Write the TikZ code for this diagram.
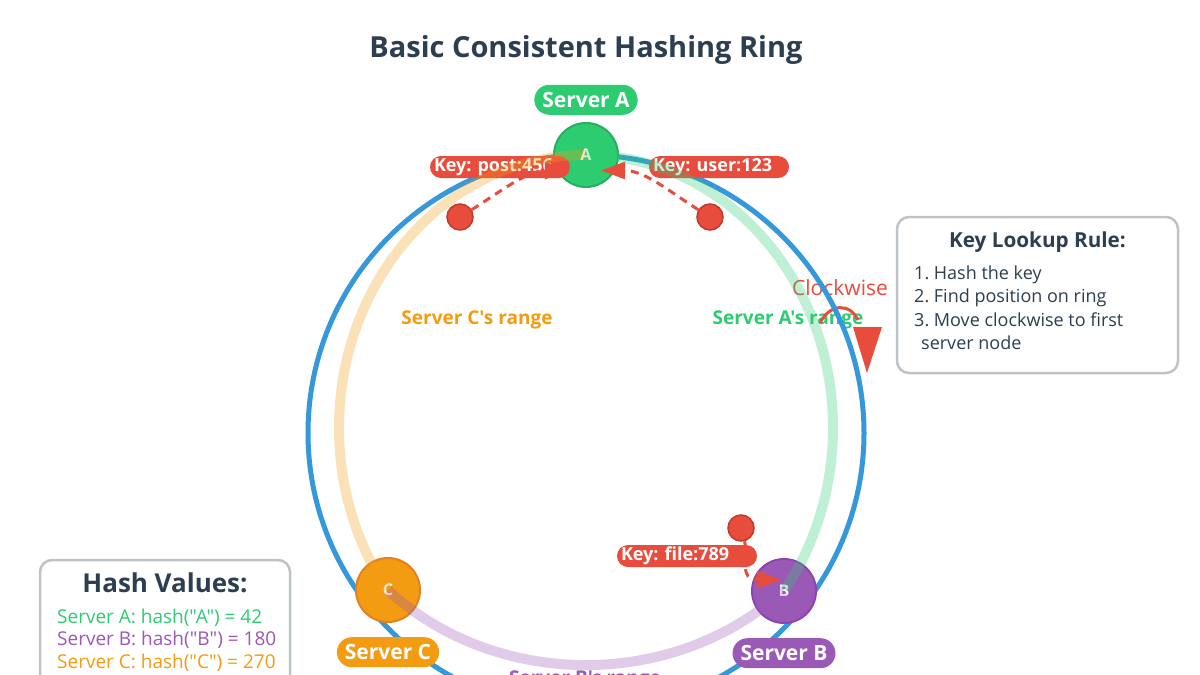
\documentclass[tikz,border=0pt]{standalone}
\usepackage{fontspec}
\setmainfont{Open Sans}[Ligatures=TeXOff]
\usetikzlibrary{positioning,arrows.meta}
\definecolor{ringblue}{HTML}{3498DB}
\definecolor{srvgreen}{HTML}{2ECC71}
\definecolor{srvgreenD}{HTML}{27AE60}
\definecolor{srvpurple}{HTML}{9B59B6}
\definecolor{srvpurpleD}{HTML}{8E44AD}
\definecolor{srvorange}{HTML}{F39C12}
\definecolor{srvorangeD}{HTML}{E67E22}
\definecolor{keyred}{HTML}{E74C3C}
\definecolor{keyredD}{HTML}{C0392B}
\definecolor{inkdark}{HTML}{2C3E50}
\definecolor{boxgray}{HTML}{BDC3C7}
\newcommand{\Size}[1]{\fontsize{#1pt}{#1pt}\selectfont}
\frenchspacing

\begin{document}
\begin{tikzpicture}[x=1pt,y=-1pt,
  server/.style={circle, minimum size=64pt, inner sep=0pt, line width=2pt, text=white, font=\Size{16}\bfseries},
  tag/.style={rounded corners=15pt, minimum height=30pt, inner xsep=8pt, inner ysep=0pt, text=white, font=\Size{21}\bfseries},
  keydot/.style={circle, minimum size=26pt, inner sep=0pt, fill=keyred, draw=keyredD, line width=1.5pt},
  keytag/.style={fill=keyred, rounded corners=11pt, minimum height=22pt, text width=132pt, inner xsep=4pt, inner ysep=0pt, align=left, text=white, font=\Size{18}\bfseries},
  keyarrow/.style={keyred, line width=3pt, dash pattern=on 8pt off 6pt, -{Triangle[length=24pt,width=17pt]}},
  rangearc/.style={line width=10pt, opacity=0.3},
  rangetext/.style={font=\Size{19}\bfseries},
  infobox/.style={draw=boxgray, line width=2.5pt, rounded corners=12pt, fill=white}]

  \useasboundingbox[fill=white] (0,0) rectangle (1200,675);
  \coordinate (ctr) at (586,433);

  \node[font=\Size{29}\bfseries, text=inkdark] (title) at (586,50) {Basic Consistent Hashing Ring};

  \node[rangetext, text=srvorange] (rangeC) at (477,320) {Server C's range};
  \node[rangetext, text=srvgreen] (rangeA) at (788,320) {Server A's range};
  \node[rangetext, text=srvpurple, anchor=base] (rangeB) at (585,684) {Server B's range};

  \node[font=\Size{21}, text=keyred] (cw) at (840,288) {Clockwise};
  \draw[keyred, line width=3pt] (820,323) .. controls (830,303) and (850,303) .. (858,320);
  \fill[keyred] (853,327) -- (882,327) -- (867,373) -- cycle;

  \draw[ringblue, line width=5pt] (ctr) circle[radius=278];

  \node[server, fill=srvgreen, draw=srvgreenD] (srvA) at (586,155) {A};
  \node[server, fill=srvpurple, draw=srvpurpleD] (srvB) at (784,591) {B};
  \node[server, fill=srvorange, draw=srvorangeD] (srvC) at (388,590) {C};
  \node[tag, fill=srvgreen, above=7pt of srvA] (tagA) {Server A};
  \node[tag, fill=srvpurple, below=14pt of srvB] (tagB) {Server B};
  \node[tag, fill=srvorange, below=14pt of srvC] (tagC) {Server C};

  \node[keydot] (kdotP) at (460,217) {};
  \node[keydot] (kdotU) at (710,217) {};
  \node[keydot] (kdotF) at (741,528) {};
  \node[keytag] (ktagP) at (500,167) {Key: post:456};
  \node[keytag] (ktagU) at (719,167) {Key: user:123};
  \node[keytag] (ktagF) at (687,556) {Key: file:789};
  \draw[keyarrow, shorten >=-12pt] (kdotP) .. controls +(40,-25) and +(-30,0) .. (srvA.208);
  \draw[keyarrow, shorten >=-14pt] (kdotU) .. controls +(-40,-25) and +(30,0) .. (srvA.-28);
  \draw[keyarrow, shorten >=-28pt] (kdotF) .. controls +(8,30) and +(-15,0) .. (srvB.160);

  \draw[rangearc, srvgreen] (srvA.center) arc[start angle=-90, end angle=36.3, x radius=247, y radius=273];
  \draw[rangearc, srvorange] (srvA.center) arc[start angle=-90, end angle=-216.3, x radius=247, y radius=273];
  \draw[rangearc, srvpurple] (srvC.center) arc[start angle=136.9, end angle=43.1, x radius=271, y radius=237];

  \node[infobox, minimum width=281pt, minimum height=156pt] (rulebox) at (1037.5,295) {};
  \node[font=\Size{20.7}\bfseries, text=inkdark] (ruletitle) at (1037.5,242) {Key Lookup Rule:};
  \foreach \txt [count=\i] in {1. Hash the key, 2. Find position on ring, 3. Move clockwise to first, \hspace*{7pt}server node}
    \node[font=\Size{18}, text=inkdark, anchor=base west, inner sep=0pt] at (914,256.2+23.3*\i) {\txt};

  \node[infobox, minimum width=250pt, minimum height=150pt] (hashbox) at (165,635) {};
  \node[font=\Size{26}\bfseries, text=inkdark] (hashtitle) at (165,583) {Hash Values:};
  \foreach \txt/\col [count=\i] in {Server A: hash("A") = 42/srvgreen, Server B: hash("B") = 180/srvpurple, Server C: hash("C") = 270/srvorange}
    \node[font=\Size{19}, text=\col, anchor=base west, inner sep=0pt] at (57,600.5+22.5*\i) {\txt};
\end{tikzpicture}
\end{document}
